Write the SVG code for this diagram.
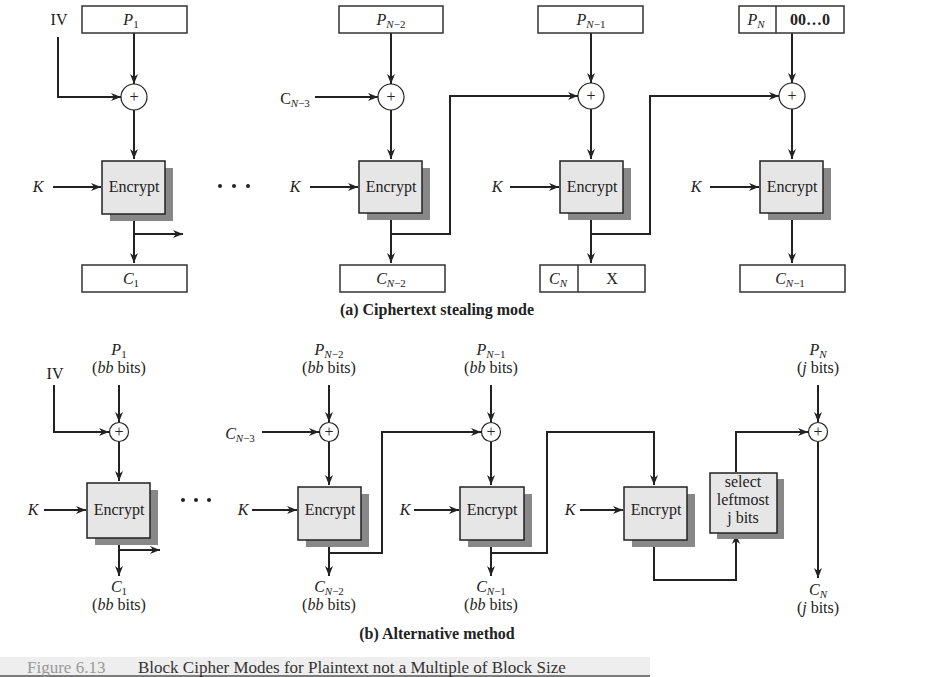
<svg xmlns="http://www.w3.org/2000/svg" width="942" height="677" viewBox="0 0 942 677">
<defs>
<marker id="ah" markerWidth="10" markerHeight="8" refX="10" refY="4" orient="auto" markerUnits="userSpaceOnUse"><path d="M0,0 L10,4 L0,8 L3,4 Z" fill="#222"/></marker>
</defs>
<style>
text{font-family:"Liberation Serif","Times New Roman",serif;fill:#222}
.t{font-size:16px;text-anchor:middle}
.i{font-style:italic}
.s{font-size:11px}
.box{fill:#fff;stroke:#333;stroke-width:1.5}
.enc{fill:#e6e6e6;stroke:#222;stroke-width:1.5}
.sh{fill:#888}
.x{fill:#fff;stroke:#222;stroke-width:1.2}
.c{fill:none;stroke:#222;stroke-width:2}
.a{marker-end:url(#ah)}
</style>
<rect width="942" height="677" fill="#fff"/>
<g id="connectors">
<path class="c a" d="M134,33 V84"/><path class="c a" d="M58,37 V97 H121"/><path class="c a" d="M134,110 V159"/>
<path class="c a" d="M53,187 H101"/><path class="c a" d="M134,214 V263"/><path class="c a" d="M134,234 H183"/>
<path class="c a" d="M391,33 V84"/><path class="c a" d="M315,97 H378"/><path class="c a" d="M391,110 V159"/>
<path class="c a" d="M310,187 H358"/><path class="c a" d="M391,213 V263"/><path class="c a" d="M391,234 H450 V96 H578"/>
<path class="c a" d="M591,33 V83"/><path class="c a" d="M591,109 V159"/><path class="c a" d="M510,187 H559"/><path class="c a" d="M591,213 V263"/>
<path class="c a" d="M591,234 H650 V96 H779"/>
<path class="c a" d="M792,33 V83"/><path class="c a" d="M792,109 V159"/><path class="c a" d="M710,187 H759"/><path class="c a" d="M792,213 V263"/>
<path class="c a" d="M119,385 V422"/><path class="c a" d="M54,385 V432 H109"/><path class="c a" d="M119,442 V481"/>
<path class="c a" d="M44,510 H86"/><path class="c a" d="M119,538 V576"/><path class="c a" d="M119,550 H160"/>
<path class="c a" d="M329,385 V422"/><path class="c a" d="M262,432 H319"/><path class="c a" d="M329,442 V485"/>
<path class="c a" d="M252,510 H297"/><path class="c a" d="M329,540 V576"/><path class="c a" d="M329,553 H382 V432 H481"/>
<path class="c a" d="M491,385 V422"/><path class="c a" d="M491,442 V485"/><path class="c a" d="M414,510 H459"/><path class="c a" d="M491,540 V576"/>
<path class="c a" d="M491,553 H547 V432 H654 V485"/>
<path class="c a" d="M580,510 H623"/><path class="c a" d="M654,540 V580 H736 V534"/>
<path class="c a" d="M736,472 V432 H808"/>
<path class="c a" d="M818,385 V422"/><path class="c a" d="M818,442 V578"/>
</g>
<g id="a-col1">
<rect class="box" x="82" y="6" width="105" height="27"/><text class="t i" x="131" y="25">P<tspan class="s" font-style="normal" dy="3">1</tspan></text>
<text class="t" x="59" y="25">IV</text>
<circle class="x" cx="134" cy="97" r="13"/><text class="t" x="134" y="102">+</text>
<rect class="sh" x="110" y="168" width="63" height="53"/><rect class="enc" x="102" y="161" width="63" height="53"/><text class="t" x="134" y="192">Encrypt</text>
<text class="t i" x="38" y="192">K</text>
<rect class="box" x="82" y="265" width="105" height="27"/><text class="t i" x="131" y="284">C<tspan class="s" font-style="normal" dy="3">1</tspan></text>
</g>
<g id="dots-a"><circle cx="220" cy="186" r="2" fill="#222"/><circle cx="234" cy="186" r="2" fill="#222"/><circle cx="248" cy="186" r="2" fill="#222"/></g>
<g id="a-col2">
<rect class="box" x="339" y="6" width="104" height="27"/><text class="t i" x="391" y="25">P<tspan class="s" dy="3">N</tspan><tspan class="s" font-style="normal">−2</tspan></text>
<text class="t" x="295" y="104">C<tspan class="s i" dy="3">N</tspan><tspan class="s">−3</tspan></text>
<circle class="x" cx="391" cy="97" r="13"/><text class="t" x="391" y="102">+</text>
<rect class="sh" x="367" y="168" width="63" height="52"/><rect class="enc" x="359" y="161" width="63" height="52"/><text class="t" x="391" y="192">Encrypt</text>
<text class="t i" x="295" y="192">K</text>
<rect class="box" x="340" y="265" width="105" height="27"/><text class="t i" x="391" y="284">C<tspan class="s" dy="3">N</tspan><tspan class="s" font-style="normal">−2</tspan></text>
</g>
<g id="a-col3">
<rect class="box" x="538" y="6" width="105" height="27"/><text class="t i" x="591" y="25">P<tspan class="s" dy="3">N</tspan><tspan class="s" font-style="normal">−1</tspan></text>
<circle class="x" cx="591" cy="96" r="13"/><text class="t" x="591" y="101">+</text>
<rect class="sh" x="568" y="168" width="63" height="52"/><rect class="enc" x="560" y="161" width="63" height="52"/><text class="t" x="592" y="192">Encrypt</text>
<text class="t i" x="497" y="192">K</text>
<rect class="box" x="540" y="265" width="105" height="27"/><line x1="578" y1="265" x2="578" y2="292" stroke="#333" stroke-width="1.5"/>
<text class="t i" x="558" y="284">C<tspan class="s" dy="3">N</tspan></text><text class="t" x="612" y="284">X</text>
</g>
<g id="a-col4">
<rect class="box" x="739" y="6" width="105" height="27"/><line x1="776" y1="6" x2="776" y2="33" stroke="#333" stroke-width="1.5"/>
<text class="t i" x="756" y="25">P<tspan class="s" dy="3">N</tspan></text><text class="t" x="810" y="25" font-weight="bold">00…0</text>
<circle class="x" cx="792" cy="96" r="13"/><text class="t" x="792" y="101">+</text>
<rect class="sh" x="768" y="168" width="63" height="52"/><rect class="enc" x="760" y="161" width="63" height="52"/><text class="t" x="792" y="192">Encrypt</text>
<text class="t i" x="696" y="192">K</text>
<rect class="box" x="740" y="265" width="105" height="27"/><text class="t i" x="790" y="284">C<tspan class="s" dy="3">N</tspan><tspan class="s" font-style="normal">−1</tspan></text>
</g>
<text class="t" x="437" y="315" font-weight="bold">(a) Ciphertext stealing mode</text>
<g id="b-col1">
<text class="t i" x="119" y="355">P<tspan class="s" font-style="normal" dy="3">1</tspan></text><text class="t" x="119" y="373">(<tspan class="i">bb</tspan> bits)</text>
<text class="t" x="55" y="379">IV</text>
<circle class="x" cx="119" cy="432" r="9.5"/><text class="t" x="119" y="437" font-size="13">+</text>
<rect class="sh" x="95" y="490" width="63" height="55"/><rect class="enc" x="87" y="483" width="63" height="55"/><text class="t" x="119" y="515">Encrypt</text>
<text class="t i" x="33" y="515">K</text>
<text class="t i" x="119" y="592">C<tspan class="s" font-style="normal" dy="3">1</tspan></text><text class="t" x="119" y="610">(<tspan class="i">bb</tspan> bits)</text>
</g>
<g id="dots-b"><circle cx="183" cy="500" r="2" fill="#222"/><circle cx="196" cy="500" r="2" fill="#222"/><circle cx="209" cy="500" r="2" fill="#222"/></g>
<g id="b-col2">
<text class="t i" x="329" y="355">P<tspan class="s" dy="3">N</tspan><tspan class="s" font-style="normal">−2</tspan></text><text class="t" x="329" y="373">(<tspan class="i">bb</tspan> bits)</text>
<text class="t i" x="240" y="439">C<tspan class="s" dy="3">N</tspan><tspan class="s" font-style="normal">−3</tspan></text>
<circle class="x" cx="329" cy="432" r="9.5"/><text class="t" x="329" y="437" font-size="13">+</text>
<rect class="sh" x="306" y="494" width="63" height="53"/><rect class="enc" x="298" y="487" width="63" height="53"/><text class="t" x="330" y="515">Encrypt</text>
<text class="t i" x="243" y="515">K</text>
<text class="t i" x="329" y="592">C<tspan class="s" dy="3">N</tspan><tspan class="s" font-style="normal">−2</tspan></text><text class="t" x="329" y="610">(<tspan class="i">bb</tspan> bits)</text>
</g>
<g id="b-col3">
<text class="t i" x="491" y="355">P<tspan class="s" dy="3">N</tspan><tspan class="s" font-style="normal">−1</tspan></text><text class="t" x="491" y="373">(<tspan class="i">bb</tspan> bits)</text>
<circle class="x" cx="491" cy="432" r="9.5"/><text class="t" x="491" y="437" font-size="13">+</text>
<rect class="sh" x="468" y="494" width="64" height="53"/><rect class="enc" x="460" y="487" width="64" height="53"/><text class="t" x="492" y="515">Encrypt</text>
<text class="t i" x="405" y="515">K</text>
<text class="t i" x="491" y="592">C<tspan class="s" dy="3">N</tspan><tspan class="s" font-style="normal">−1</tspan></text><text class="t" x="491" y="610">(<tspan class="i">bb</tspan> bits)</text>
</g>
<g id="b-col4">
<rect class="sh" x="632" y="494" width="63" height="53"/><rect class="enc" x="624" y="487" width="63" height="53"/><text class="t" x="656" y="515">Encrypt</text>
<text class="t i" x="570" y="515">K</text>
</g>
<g id="b-select">
<rect class="sh" x="717" y="479" width="67" height="60"/><rect class="enc" x="710" y="473" width="67" height="60"/>
<text class="t" x="743" y="487" font-size="15">select</text><text class="t" x="743" y="505" font-size="15">leftmost</text><text class="t" x="743" y="523" font-size="15">j bits</text>
</g>
<g id="b-col5">
<text class="t i" x="818" y="355">P<tspan class="s" dy="3">N</tspan></text><text class="t" x="818" y="373">(<tspan class="i">j</tspan> bits)</text>
<circle class="x" cx="818" cy="432" r="9.5"/><text class="t" x="818" y="437" font-size="13">+</text>
<text class="t i" x="818" y="595">C<tspan class="s" dy="3">N</tspan></text><text class="t" x="818" y="613">(<tspan class="i">j</tspan> bits)</text>
</g>
<text class="t" x="437" y="639" font-weight="bold">(b) Alternative method</text>
<g id="figcap">
<rect x="0" y="657" width="650" height="20" fill="#eeeeee"/>
<line x1="0" y1="676" x2="650" y2="676" stroke="#555" stroke-width="1.5"/>
<text x="27" y="673" font-size="17" style="fill:#999">Figure 6.13</text>
<text x="138" y="673" font-size="17" style="fill:#333">Block Cipher Modes for Plaintext not a Multiple of Block Size</text>
</g>
</svg>
